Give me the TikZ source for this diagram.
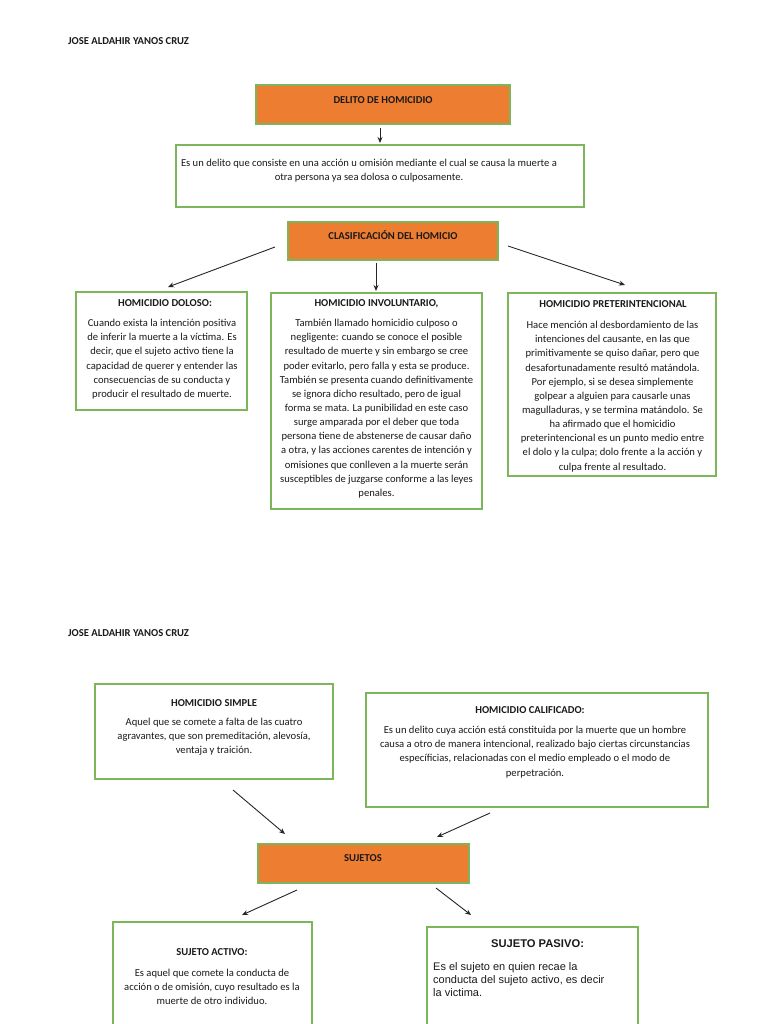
\documentclass[tikz,border=0pt]{standalone}
\usepackage{fontspec}
\setmainfont{Carlito}
\newfontfamily\arialf{Liberation Sans}
\usetikzlibrary{arrows.meta}
\definecolor{orangefill}{HTML}{ED7D31}
\definecolor{greenline}{HTML}{7DB55A}
\definecolor{arrowcol}{HTML}{262626}
\definecolor{inkc}{HTML}{1A1A1A}
\begin{document}
\begin{tikzpicture}[x=1pt,y=-1pt,
  box/.style={draw=greenline, line width=1.1pt, inner sep=0pt, fill=white},
  obox/.style={box, fill=orangefill},
  body/.style={inner sep=0pt, align=center, text=inkc, font=\fontsize{10.6}{14.15}\selectfont, anchor=north},
  hdr/.style={inner sep=0pt, text=inkc, font=\bfseries\fontsize{10.6}{14.15}\selectfont, anchor=base},
  abody/.style={inner sep=0pt, align=left, text=inkc, font=\arialf\fontsize{11}{13}\selectfont, anchor=north west},
  ahdr/.style={inner sep=0pt, text=inkc, font=\arialf\bfseries\fontsize{11.2}{13}\selectfont, anchor=base},
  conn/.style={draw=arrowcol, line width=0.9pt, -{Stealth[length=6pt,width=5pt]}}]
\useasboundingbox (0,0) rectangle (768,1024);
\clip (0,0) rectangle (768,1024);
\fill[white] (0,0) rectangle (768,1024);

% ---------- page 1 ----------
\node[hdr, anchor=base west] (name1) at (68,44.5) {JOSE ALDAHIR YANOS CRUZ};

\node[obox, minimum width=254pt, minimum height=39pt] (delito) at (383,104.5) {};
\node[hdr] (delitoT) at (383,103.5) {DELITO DE HOMICIDIO};

\node[box, minimum width=408pt, minimum height=62pt] (def) at (380,176) {};
\node[body] (defT) at (369,159) {Es un delito que consiste en una acción u omisión mediante el cual se causa la muerte a\\ otra persona ya sea dolosa o culposamente.};

\node[obox, minimum width=210pt, minimum height=38pt] (clasif) at (393,241) {};
\node[hdr] (clasifT) at (393,239.5) {CLASIFICACIÓN DEL HOMICIO};

\node[box, minimum width=171pt, minimum height=118pt] (doloso) at (161.5,351) {};
\node[hdr] (dolosoT) at (165,306.5) {HOMICIDIO DOLOSO:};
\node[body] (dolosoB) at (162,319) {Cuando exista la intención positiva\\ de inferir la muerte a la víctima. Es\\ decir, que el sujeto activo tiene la\\ capacidad de querer y entender las\\ consecuencias de su conducta y\\ producir el resultado de muerte.};

\node[box, minimum width=211pt, minimum height=216pt] (invol) at (376.5,401) {};
\node[hdr] (involT) at (376.5,306.5) {HOMICIDIO INVOLUNTARIO,};
\node[body] (involB) at (376.5,319) {También llamado homicidio culposo o\\ negligente: cuando se conoce el posible\\ resultado de muerte y sin embargo se cree\\ poder evitarlo, pero falla y esta se produce.\\ También se presenta cuando definitivamente\\ se ignora dicho resultado, pero de igual\\ forma se mata. La punibilidad en este caso\\ surge amparada por el deber que toda\\ persona tiene de abstenerse de causar daño\\ a otra, y las acciones carentes de intención y\\ omisiones que conlleven a la muerte serán\\ susceptibles de juzgarse conforme a las leyes\\ penales.};

\node[box, minimum width=208pt, minimum height=183pt] (preter) at (612,384.5) {};
\node[hdr] (preterT) at (613,307.5) {HOMICIDIO PRETERINTENCIONAL};
\node[body] (preterB) at (612.5,321) {Hace mención al desbordamiento de las\\ intenciones del causante, en las que\\ primitivamente se quiso dañar, pero que\\ desafortunadamente resultó matándola.\\ Por ejemplo, si se desea simplemente\\ golpear a alguien para causarle unas\\ magulladuras, y se termina matándolo. Se\\ ha afirmado que el homicidio\\ preterintencional es un punto medio entre\\ el dolo y la culpa; dolo frente a la acción y\\ culpa frente al resultado.};

\coordinate (a1s) at (380,128);  \coordinate (a1e) at (380,143);
\coordinate (a2s) at (275,247);  \coordinate (a2e) at (168,287);
\coordinate (a3s) at (376,263);  \coordinate (a3e) at (376,291);
\coordinate (a4s) at (508,246);  \coordinate (a4e) at (625,285);
\draw[conn] (a1s) -- (a1e);
\draw[conn] (a2s) -- (a2e);
\draw[conn] (a3s) -- (a3e);
\draw[conn] (a4s) -- (a4e);

% ---------- page 2 ----------
\node[hdr, anchor=base west] (name2) at (68,636.5) {JOSE ALDAHIR YANOS CRUZ};

\node[box, minimum width=238pt, minimum height=95pt] (simple) at (214,731.5) {};
\node[hdr] (simpleT) at (214,706.5) {HOMICIDIO SIMPLE};
\node[body] (simpleB) at (214,718) {Aquel que se comete a falta de las cuatro\\ agravantes, que son premeditación, alevosía,\\ ventaja y traición.};

\node[box, minimum width=342pt, minimum height=114pt] (calif) at (537,750) {};
\node[hdr] (califT) at (530,713.5) {HOMICIDIO CALIFICADO:};
\node[body] (califB) at (535,726) {Es un delito cuya acción está constituida por la muerte que un hombre\\ causa a otro de manera intencional, realizado bajo ciertas circunstancias\\ especíﬁcias, relacionadas con el medio empleado o el modo de\\ perpetración.};

\node[obox, minimum width=211pt, minimum height=39pt] (sujetos) at (363.5,863.5) {};
\node[hdr] (sujetosT) at (363,861.5) {SUJETOS};

\node[box, minimum width=199pt, minimum height=140pt] (activo) at (212.5,992) {};
\node[hdr] (activoT) at (212,955.5) {SUJETO ACTIVO:};
\node[body] (activoB) at (212,969) {Es aquel que comete la conducta de\\ acción o de omisión, cuyo resultado es la\\ muerte de otro individuo.};

\node[box, minimum width=211pt, minimum height=130pt] (pasivo) at (532.5,992) {};
\node[ahdr] (pasivoT) at (537.5,947) {SUJETO PASIVO:};
\node[abody] (pasivoB) at (433,962) {Es el sujeto en quien recae la\\ conducta del sujeto activo, es decir\\ la victima.};

\coordinate (b1s) at (233,790);  \coordinate (b1e) at (285,834);
\coordinate (b2s) at (490,813);  \coordinate (b2e) at (437,837);
\coordinate (b3s) at (297,890);  \coordinate (b3e) at (242,915);
\coordinate (b4s) at (436,888);  \coordinate (b4e) at (471,915);
\draw[conn] (b1s) -- (b1e);
\draw[conn] (b2s) -- (b2e);
\draw[conn] (b3s) -- (b3e);
\draw[conn] (b4s) -- (b4e);
\end{tikzpicture}
\end{document}
